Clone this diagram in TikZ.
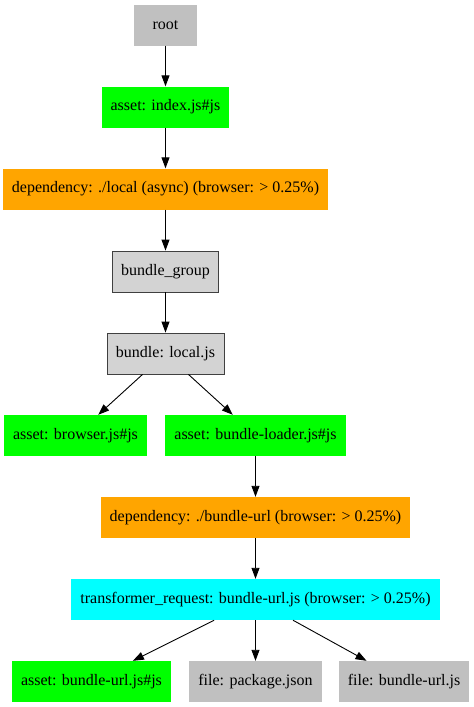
\documentclass[tikz,border=0pt]{standalone}
\usepackage{fontspec}
\setmainfont{Liberation Serif}
\usetikzlibrary{arrows.meta, positioning}
\definecolor{rootgray}{RGB}{192, 192, 192}
\definecolor{bundlegray}{RGB}{211, 211, 211}
\definecolor{assetgreen}{RGB}{0, 255, 0}
\definecolor{deporange}{RGB}{255, 165, 0}
\definecolor{reqcyan}{RGB}{0, 255, 255}

\begin{document}
\begin{tikzpicture}[x=1pt, y=-1pt,
    box/.style={rectangle, minimum height=41pt, minimum width=63pt, inner xsep=9pt,
      font=\fontsize{16}{19}\selectfont},
    plainbox/.style={box, fill=rootgray},
    assetbox/.style={box, fill=assetgreen},
    depbox/.style={box, fill=deporange},
    reqbox/.style={box, fill=reqcyan},
    bundlebox/.style={box, fill=bundlegray, draw=black!75, line width=0.9pt},
    edge/.style={-{Triangle[length=11pt, width=8pt]}, line width=0.9pt}]
  \useasboundingbox (0,0) rectangle (474,707);

  % upper chain
  \node[plainbox] (root) at (165.5,25) {root};
  \node[assetbox] (index) at (165.5,107) {asset: index.js\#js};
  \node[depbox] (deplocal) at (165.5,189) {dependency: ./local (async) (browser: > 0.25\%)};
  \node[bundlebox] (group) at (165.5,271.5) {bundle\_group};
  \node[bundlebox] (bundle) at (165.5,353.5) {bundle: local.js};

  % assets of the bundle
  \node[assetbox] (browser) at (75.5,435.5) {asset: browser.js\#js};
  \node[assetbox] (loader) at (255.5,435.5) {asset: bundle-loader.js\#js};
  \node[depbox] (depurl) at (255.5,517.5) {dependency: ./bundle-url (browser: > 0.25\%)};
  \node[reqbox] (request) at (255.5,599.5) {transformer\_request: bundle-url.js (browser: > 0.25\%)};

  % bottom row
  \node[assetbox] (urlasset) at (91.5,681.5) {asset: bundle-url.js\#js};
  \node[plainbox] (pkg) at (255.5,681.5) {file: package.json};
  \node[plainbox] (urlfile) at (404,681.5) {file: bundle-url.js};

  \draw[edge] (root) -- (index);
  \draw[edge] (index) -- (deplocal);
  \draw[edge] (deplocal) -- (group);
  \draw[edge] (group) -- (bundle);
  \draw[edge] (bundle) -- (browser);
  \draw[edge] (bundle) -- (loader);
  \draw[edge] (loader) -- (depurl);
  \draw[edge] (depurl) -- (request);
  \draw[edge] (request) -- (urlasset);
  \draw[edge] (request) -- (pkg);
  \draw[edge] (request) -- (urlfile);
\end{tikzpicture}
\end{document}
